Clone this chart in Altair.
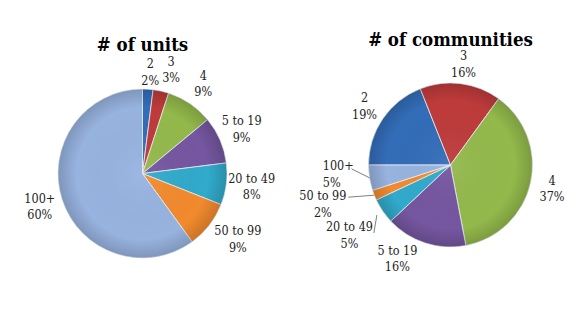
import math
import altair as alt
import pandas as pd

# ---- data ----
categories = ["2", "3", "4", "5 to 19", "20 to 49", "50 to 99", "100+"]
units_pct = [2, 3, 9, 9, 8, 9, 60]
communities_pct = [19, 16, 37, 16, 5, 2, 5]
palette = ["#336DB8", "#BE3B3B", "#93B94B", "#7556A0", "#31AACB", "#F28A2E", "#97B3DF"]

TAU = 2 * math.pi
FONT = "DejaVu Serif Condensed"
LINE_H = 16.5


def make_df(vals):
    return pd.DataFrame({
        "category": categories,
        "value": vals,
        "order": list(range(len(categories))),
        "label": [f"{c}\n{v}%" for c, v in zip(categories, vals)],
    })


def pie(vals, cx, cy, R, start, title, title_y, label_r, nudges, leaders):
    df = make_df(vals)
    tscale = alt.Scale(domain=[0, 100], range=[start, start + TAU])
    base = (
        alt.Chart(df)
        .transform_window(cum="sum(value)", sort=[alt.SortField("order")], frame=[None, 0])
        .transform_calculate(s0="datum.cum - datum.value", mid="datum.cum - datum.value / 2")
    )
    layers = []
    layers.append(
        base.mark_arc(radius=R, stroke="#e8eef6", strokeWidth=0.8).encode(
            x=alt.value(cx), y=alt.value(cy),
            theta=alt.Theta("s0:Q", scale=tscale, stack=None),
            theta2="cum:Q",
            color=alt.Color("category:N", scale=alt.Scale(domain=categories, range=palette), legend=None),
        )
    )
    grad = alt.RadialGradient(
        gradient="radial",
        stops=[
            alt.GradientStop(color="rgba(255,255,255,0.06)", offset=0),
            alt.GradientStop(color="rgba(0,0,0,0)", offset=0.78),
            alt.GradientStop(color="rgba(0,0,0,0.16)", offset=1),
        ],
        x1=0.5, y1=0.5, r1=0, x2=0.5, y2=0.5, r2=0.5,
    )
    layers.append(
        alt.Chart(pd.DataFrame({"k": [0]})).mark_arc(radius=R, fill=grad).encode(
            x=alt.value(cx), y=alt.value(cy),
            theta=alt.value(0), theta2=alt.value(TAU),
        )
    )
    for cat in categories:
        dx, dy, align = nudges.get(cat, (0, 0, "center"))
        layers.append(
            base.transform_filter(alt.datum.category == cat)
            .mark_text(radius=label_r, lineBreak="\n", font=FONT, fontSize=12.5, lineHeight=LINE_H,
                       color="#222222", dx=dx, dy=dy - LINE_H / 2, align=align, baseline="middle")
            .encode(
                x=alt.value(cx), y=alt.value(cy),
                theta=alt.Theta("mid:Q", scale=tscale, stack=None),
                text="label:N",
            )
        )
    for cat, (ext, ox, oy) in leaders.items():
        rr = R + ext
        layers.append(
            base.transform_filter(alt.datum.category == cat)
            .transform_calculate(ang=f"{start} + {TAU} * datum.mid / 100")
            .transform_calculate(
                ex=f"{cx} + {rr} * sin(datum.ang)",
                ey=f"{cy} - {rr} * cos(datum.ang)",
            )
            .transform_calculate(lx=f"datum.ex + ({ox})", ly=f"datum.ey + ({oy})")
            .mark_rule(color="#7f7f7f", strokeWidth=1)
            .encode(
                x=alt.X("lx:Q", scale=None, axis=None),
                y=alt.Y("ly:Q", scale=None, axis=None),
                x2="ex:Q", y2="ey:Q",
            )
        )
    layers.append(
        alt.Chart(pd.DataFrame({"t": [title]})).mark_text(
            font=FONT, fontSize=18.5, fontWeight="bold", color="#000000", align="center", baseline="alphabetic"
        ).encode(text="t:N", x=alt.value(cx), y=alt.value(title_y))
    )
    return layers


left = pie(
    units_pct, 142.5, 173.5, 84.5, 0, "# of units", 51, 108,
    {"2": (1, 7, "center"), "3": (5, 2, "center"), "50 to 99": (10, 0, "center"),
     "5 to 19": (0, -1, "center"), "20 to 49": (2, 0, "center")},
    {},
)
right = pie(
    communities_pct, 450.5, 165, 82, 1.5 * math.pi, "# of communities", 45.5, 104,
    {"3": (0, 2.5, "center"), "4": (0, 1.5, "center"), "5 to 19": (-21, -5, "center"),
     "20 to 49": (-15, 12, "center"), "50 to 99": (-31, 1, "center"), "100+": (-25, -7, "left")},
    {"100+": (0, -18, -9), "50 to 99": (0, -26, 2), "20 to 49": (7, -3, 18)},
)

chart = (
    alt.layer(*left, *right)
    .resolve_scale(theta="independent")
    .properties(width=581, height=327, autosize=alt.AutoSizeParams(type="none"), padding=0, background="white")
    .configure_view(strokeWidth=0)
)

chart.save("out.html", embed_options={"renderer": "svg", "actions": False})
